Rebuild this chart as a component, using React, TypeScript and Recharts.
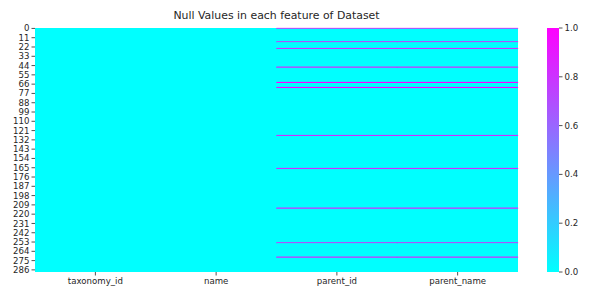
import React from 'react';
import { BarChart, Bar, XAxis, YAxis, Cell, CartesianGrid } from 'recharts';

const columns = ['taxonomy_id', 'name', 'parent_id', 'parent_name'];
const rowCount = 289;
const rowIndexes = Array.from({ length: rowCount }, (_, i) => i);
const nullRowsTaxonomyId: number[] = [];
const nullRowsName: number[] = [];
const nullRowsParentId = [0, 16, 24, 46, 64, 70, 127, 166, 213, 254, 271];
const nullRowsParentName = [0, 16, 24, 46, 64, 70, 127, 166, 213, 254, 271];
const colorbarTicks = [0, 0.2, 0.4, 0.6, 0.8, 1.0];

const nullLists = [nullRowsTaxonomyId, nullRowsName, nullRowsParentId, nullRowsParentName];

const data = rowIndexes.map((r) => {
  const o: any = { row: r };
  columns.forEach((c, j) => {
    o[c] = 1;
    o[c + '_null'] = nullLists[j].includes(r) ? 1 : 0;
  });
  return o;
});

const CYAN = '#00ffff';
const MAGENTA = '#ff00ff';
const FONT = 'DejaVu Sans';
const TEXT = '#262626';

export default function App() {
  return (
    <div style={{ position: 'absolute', left: 0, top: 0, width: 592, height: 297, background: '#fff', fontFamily: FONT }}>
      <div style={{ position: 'absolute', left: 0, top: 0 }}>
        <BarChart
          width={592}
          height={297}
          data={data}
          layout="vertical"
          barCategoryGap={0}
          barGap={0}
          margin={{ top: 28, right: 74, bottom: 5, left: 5 }}
        >
          <CartesianGrid horizontal={false} vertical={false} fill={CYAN} fillOpacity={1} />
          <XAxis
            type="number"
            domain={[0, 4]}
            ticks={[0.5, 1.5, 2.5, 3.5]}
            tickFormatter={(v: number) => columns[Math.floor(v)]}
            axisLine={false}
            tickSize={3.5}
            tickMargin={2}
            height={20}
            tick={{ fontSize: 8.6, fill: TEXT, fontFamily: FONT }}
            tickLine={{ stroke: TEXT, strokeWidth: 0.8 }}
            interval={0}
          />
          <YAxis
            type="category"
            dataKey="row"
            interval={10}
            axisLine={false}
            tickSize={3.5}
            tickMargin={2}
            width={30}
            tick={{ fontSize: 8.6, fill: TEXT, fontFamily: FONT }}
            tickLine={{ stroke: TEXT, strokeWidth: 0.8 }}
          />
          {columns.map((c) => (
            <Bar key={c} dataKey={c} stackId="a" isAnimationActive={false}>
              {data.map((d, i) => (
                <Cell
                  key={i}
                  fill={d[c + '_null'] ? MAGENTA : CYAN}
                  stroke={d[c + '_null'] ? MAGENTA : 'none'}
                  strokeWidth={d[c + '_null'] ? 0.3 : 0}
                />
              ))}
            </Bar>
          ))}
        </BarChart>
      </div>
      <div
        style={{
          position: 'absolute',
          left: 35,
          width: 483,
          top: 9,
          textAlign: 'center',
          fontSize: 10.9,
          color: TEXT,
          fontFamily: FONT,
          lineHeight: '14px',
        }}
      >
        Null Values in each feature of Dataset
      </div>
      <div style={{ position: 'absolute', left: 547, top: 0 }}>
        <BarChart
          width={45}
          height={297}
          data={[{ k: 'cb', v: 1 }]}
          barCategoryGap={0}
          margin={{ top: 28, right: 0, bottom: 25, left: 0 }}
        >
          <defs>
            <linearGradient id="coolGrad" x1="0" y1="1" x2="0" y2="0">
              <stop offset="0%" stopColor={CYAN} />
              <stop offset="100%" stopColor={MAGENTA} />
            </linearGradient>
          </defs>
          <XAxis dataKey="k" hide />
          <YAxis
            orientation="right"
            type="number"
            domain={[0, 1]}
            ticks={colorbarTicks}
            tickFormatter={(v: number) => v.toFixed(1)}
            axisLine={false}
            tickSize={3.5}
            tickMargin={2}
            width={33}
            tick={{ fontSize: 8.6, fill: TEXT, fontFamily: FONT, textAnchor: 'start' }}
            tickLine={{ stroke: TEXT, strokeWidth: 0.8 }}
          />
          <Bar dataKey="v" fill="url(#coolGrad)" isAnimationActive={false} />
        </BarChart>
      </div>
    </div>
  );
}
